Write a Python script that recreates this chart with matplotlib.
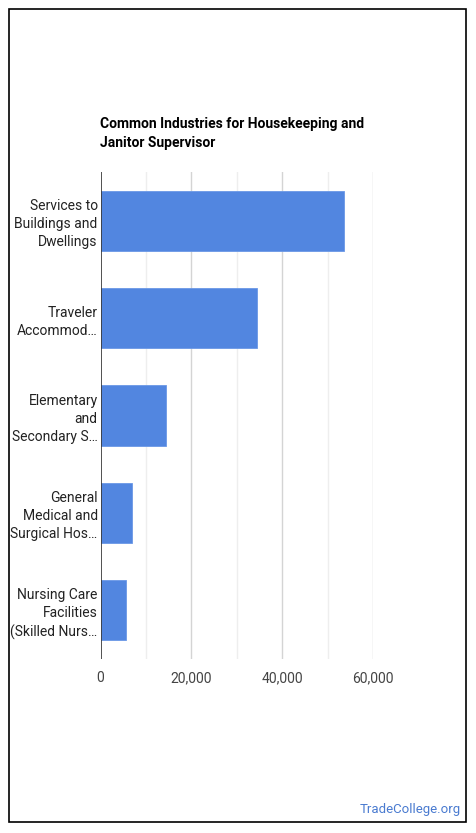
import matplotlib
matplotlib.use("Agg")
import matplotlib.pyplot as plt
from matplotlib.patches import Rectangle

categories = [
    "Services to\nBuildings and\nDwellings",
    "Traveler\nAccommod…",
    "Elementary\nand\nSecondary S…",
    "General\nMedical and\nSurgical Hos…",
    "Nursing Care\nFacilities\n(Skilled Nurs…",
]
values = [53600, 34500, 14400, 7000, 5500]
major_ticks = [0, 20000, 40000, 60000]
major_labels = ["0", "20,000", "40,000", "60,000"]
minor_ticks = [10000, 30000, 50000]
title = "Common Industries for Housekeeping and\nJanitor Supervisor"
watermark = "TradeCollege.org"

plt.rcParams['font.family'] = ['Roboto', 'DejaVu Sans']

W, H = 476, 833
fig = plt.figure(figsize=(W / 100, H / 100), dpi=100)
fig.patch.set_facecolor("white")

# outer border
fig.patches.append(Rectangle((8.5 / W, 1 - 822 / H), (465.5 - 8.5) / W, (822 - 8.5) / H,
                             transform=fig.transFigure, fill=False, edgecolor="black",
                             linewidth=1.2, zorder=0))

ax = fig.add_axes([100.5 / W, 1 - 659 / H, (373.3 - 100.5) / W, (659 - 172) / H])
y = list(range(len(categories)))
ax.barh(y, values, height=0.62, color="#5286E0", edgecolor="#6a98e6", linewidth=0.6, zorder=3)
ax.set_ylim(len(categories) - 0.5, -0.5)
ax.set_xlim(0, 60000)

for t in major_ticks[1:]:
    ax.axvline(t, color="#d4d4d4", linewidth=1, zorder=1)
for t in minor_ticks:
    ax.axvline(t, color="#eeeeee", linewidth=1, zorder=1)
ax.axvline(0, color="#333333", linewidth=1.2, zorder=4)

ax.set_xticks(major_ticks)
ax.set_xticklabels(major_labels, fontsize=10, color="#444444")
ax.set_yticks(y)
ax.set_yticklabels(categories, fontsize=10, color="#222222", linespacing=1.36)
ax.tick_params(axis="both", length=0)
ax.tick_params(axis="x", pad=9)
ax.tick_params(axis="y", pad=2)
for s in ax.spines.values():
    s.set_visible(False)

fig.text(100 / W, 1 - 117 / H, title, fontsize=10, fontweight="bold", color="#000000",
         ha="left", va="top", linespacing=1.5)
fig.text(461 / W, 1 - 810 / H, watermark, fontsize=9.5, color="#4a7bd0", ha="right", va="center")

fig.savefig("out.png", dpi=100, facecolor="white")
